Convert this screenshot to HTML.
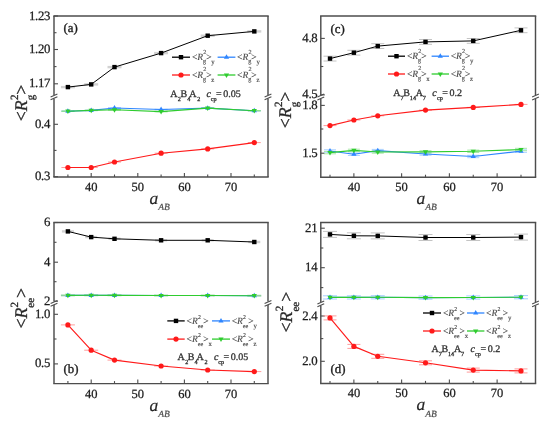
<!DOCTYPE html>
<html><head><meta charset="utf-8"><style>
html,body{margin:0;padding:0;background:#fff;}
svg{display:block;filter:blur(0.4px);}
text{font-family:'Liberation Serif', 'Times New Roman', serif;text-rendering:geometricPrecision;}
</style></head><body>
<svg width="550" height="427" viewBox="0 0 550 427">
<rect x="0" y="0" width="550" height="427" fill="#fff"/>
<line x1="53.27" y1="16.00" x2="268.73" y2="16.00" stroke="#4d4d4d" stroke-width="1.45" />
<line x1="53.27" y1="177.00" x2="268.73" y2="177.00" stroke="#4d4d4d" stroke-width="1.45" />
<line x1="54.00" y1="16.00" x2="54.00" y2="95.00" stroke="#4d4d4d" stroke-width="1.45" />
<line x1="54.00" y1="98.60" x2="54.00" y2="177.00" stroke="#4d4d4d" stroke-width="1.45" />
<line x1="268.00" y1="16.00" x2="268.00" y2="95.00" stroke="#4d4d4d" stroke-width="1.45" />
<line x1="268.00" y1="98.60" x2="268.00" y2="177.00" stroke="#4d4d4d" stroke-width="1.45" />
<line x1="50.60" y1="96.90" x2="57.40" y2="93.90" stroke="#4d4d4d" stroke-width="1.1" />
<line x1="50.60" y1="99.70" x2="57.40" y2="96.70" stroke="#4d4d4d" stroke-width="1.1" />
<line x1="264.60" y1="96.90" x2="271.40" y2="93.90" stroke="#4d4d4d" stroke-width="1.1" />
<line x1="264.60" y1="99.70" x2="271.40" y2="96.70" stroke="#4d4d4d" stroke-width="1.1" />
<line x1="54.00" y1="16.00" x2="58.00" y2="16.00" stroke="#4d4d4d" stroke-width="1.1" />
<line x1="54.00" y1="49.50" x2="58.00" y2="49.50" stroke="#4d4d4d" stroke-width="1.1" />
<line x1="54.00" y1="83.80" x2="58.00" y2="83.80" stroke="#4d4d4d" stroke-width="1.1" />
<line x1="54.00" y1="124.30" x2="58.00" y2="124.30" stroke="#4d4d4d" stroke-width="1.1" />
<line x1="54.00" y1="176.70" x2="58.00" y2="176.70" stroke="#4d4d4d" stroke-width="1.1" />
<line x1="54.00" y1="32.70" x2="56.50" y2="32.70" stroke="#4d4d4d" stroke-width="1.1" />
<line x1="54.00" y1="66.60" x2="56.50" y2="66.60" stroke="#4d4d4d" stroke-width="1.1" />
<line x1="54.00" y1="150.40" x2="56.50" y2="150.40" stroke="#4d4d4d" stroke-width="1.1" />
<line x1="91.20" y1="177.00" x2="91.20" y2="173.00" stroke="#4d4d4d" stroke-width="1.1" />
<line x1="137.80" y1="177.00" x2="137.80" y2="173.00" stroke="#4d4d4d" stroke-width="1.1" />
<line x1="184.40" y1="177.00" x2="184.40" y2="173.00" stroke="#4d4d4d" stroke-width="1.1" />
<line x1="231.00" y1="177.00" x2="231.00" y2="173.00" stroke="#4d4d4d" stroke-width="1.1" />
<line x1="67.90" y1="177.00" x2="67.90" y2="174.50" stroke="#4d4d4d" stroke-width="1.1" />
<line x1="114.50" y1="177.00" x2="114.50" y2="174.50" stroke="#4d4d4d" stroke-width="1.1" />
<line x1="161.10" y1="177.00" x2="161.10" y2="174.50" stroke="#4d4d4d" stroke-width="1.1" />
<line x1="207.70" y1="177.00" x2="207.70" y2="174.50" stroke="#4d4d4d" stroke-width="1.1" />
<line x1="254.30" y1="177.00" x2="254.30" y2="174.50" stroke="#4d4d4d" stroke-width="1.1" />
<text x="50.10" y="19.50" font-size="12.8" text-anchor="end" fill="#1c1c1c" stroke="#1c1c1c" stroke-width="0.25" letter-spacing="-0.3">1.23</text>
<text x="50.10" y="53.00" font-size="12.8" text-anchor="end" fill="#1c1c1c" stroke="#1c1c1c" stroke-width="0.25" letter-spacing="-0.3">1.20</text>
<text x="50.10" y="87.30" font-size="12.8" text-anchor="end" fill="#1c1c1c" stroke="#1c1c1c" stroke-width="0.25" letter-spacing="-0.3">1.17</text>
<text x="50.10" y="127.80" font-size="12.8" text-anchor="end" fill="#1c1c1c" stroke="#1c1c1c" stroke-width="0.25" letter-spacing="-0.3">0.4</text>
<text x="50.10" y="180.20" font-size="12.8" text-anchor="end" fill="#1c1c1c" stroke="#1c1c1c" stroke-width="0.25" letter-spacing="-0.3">0.3</text>
<text x="91.20" y="191.00" font-size="12.5" text-anchor="middle" fill="#1c1c1c" stroke="#1c1c1c" stroke-width="0.25" >40</text>
<text x="137.80" y="191.00" font-size="12.5" text-anchor="middle" fill="#1c1c1c" stroke="#1c1c1c" stroke-width="0.25" >50</text>
<text x="184.40" y="191.00" font-size="12.5" text-anchor="middle" fill="#1c1c1c" stroke="#1c1c1c" stroke-width="0.25" >60</text>
<text x="231.00" y="191.00" font-size="12.5" text-anchor="middle" fill="#1c1c1c" stroke="#1c1c1c" stroke-width="0.25" >70</text>
<text x="149.60" y="204.00" font-size="17.5" text-anchor="start" fill="#262626" stroke="#262626" stroke-width="0.2" font-style="italic">a</text>
<text x="158.30" y="210.10" font-size="9.5" text-anchor="start" fill="#4a4a4a" stroke="#4a4a4a" stroke-width="0.2" font-style="italic">AB</text>
<text x="63.50" y="32.00" font-size="12.8" text-anchor="start" fill="#1c1c1c" stroke="#1c1c1c" stroke-width="0.35" >(a)</text>
<line x1="60.90" y1="87.10" x2="74.90" y2="87.10" stroke="#d2d2d2" stroke-width="2.4" />
<line x1="84.20" y1="84.40" x2="98.20" y2="84.40" stroke="#d2d2d2" stroke-width="2.4" />
<line x1="107.50" y1="67.10" x2="121.50" y2="67.10" stroke="#d2d2d2" stroke-width="2.4" />
<line x1="154.10" y1="53.10" x2="168.10" y2="53.10" stroke="#d2d2d2" stroke-width="2.4" />
<line x1="200.70" y1="35.70" x2="214.70" y2="35.70" stroke="#d2d2d2" stroke-width="2.4" />
<line x1="247.30" y1="31.40" x2="261.30" y2="31.40" stroke="#d2d2d2" stroke-width="2.4" />
<line x1="61.40" y1="167.50" x2="74.40" y2="167.50" stroke="#ff9c9c" stroke-width="1.0" />
<line x1="84.70" y1="167.50" x2="97.70" y2="167.50" stroke="#ff9c9c" stroke-width="1.0" />
<line x1="108.00" y1="162.00" x2="121.00" y2="162.00" stroke="#ff9c9c" stroke-width="1.0" />
<line x1="154.60" y1="153.20" x2="167.60" y2="153.20" stroke="#ff9c9c" stroke-width="1.0" />
<line x1="201.20" y1="148.90" x2="214.20" y2="148.90" stroke="#ff9c9c" stroke-width="1.0" />
<line x1="247.80" y1="142.60" x2="260.80" y2="142.60" stroke="#ff9c9c" stroke-width="1.0" />
<polyline points="67.90,87.10 91.20,84.40 114.50,67.10 161.10,53.10 207.70,35.70 254.30,31.40" fill="none" stroke="#000000" stroke-width="1.0" stroke-linejoin="round"/>
<rect x="65.70" y="84.90" width="4.40" height="4.40" fill="#000000"/>
<rect x="89.00" y="82.20" width="4.40" height="4.40" fill="#000000"/>
<rect x="112.30" y="64.90" width="4.40" height="4.40" fill="#000000"/>
<rect x="158.90" y="50.90" width="4.40" height="4.40" fill="#000000"/>
<rect x="205.50" y="33.50" width="4.40" height="4.40" fill="#000000"/>
<rect x="252.10" y="29.20" width="4.40" height="4.40" fill="#000000"/>
<line x1="61.40" y1="111.20" x2="74.40" y2="111.20" stroke="#8fc0ff" stroke-width="1.4" />
<line x1="84.70" y1="110.40" x2="97.70" y2="110.40" stroke="#8fc0ff" stroke-width="1.4" />
<line x1="108.00" y1="108.00" x2="121.00" y2="108.00" stroke="#8fc0ff" stroke-width="1.4" />
<line x1="154.60" y1="109.50" x2="167.60" y2="109.50" stroke="#8fc0ff" stroke-width="1.4" />
<line x1="201.20" y1="108.10" x2="214.20" y2="108.10" stroke="#8fc0ff" stroke-width="1.4" />
<line x1="247.80" y1="110.70" x2="260.80" y2="110.70" stroke="#8fc0ff" stroke-width="1.4" />
<line x1="61.40" y1="111.20" x2="74.40" y2="111.20" stroke="#8fdf8f" stroke-width="1.4" />
<line x1="84.70" y1="110.40" x2="97.70" y2="110.40" stroke="#8fdf8f" stroke-width="1.4" />
<line x1="108.00" y1="109.80" x2="121.00" y2="109.80" stroke="#8fdf8f" stroke-width="1.4" />
<line x1="154.60" y1="111.60" x2="167.60" y2="111.60" stroke="#8fdf8f" stroke-width="1.4" />
<line x1="201.20" y1="108.10" x2="214.20" y2="108.10" stroke="#8fdf8f" stroke-width="1.4" />
<line x1="247.80" y1="110.70" x2="260.80" y2="110.70" stroke="#8fdf8f" stroke-width="1.4" />
<polyline points="67.90,111.20 91.20,110.40 114.50,108.00 161.10,109.50 207.70,108.10 254.30,110.70" fill="none" stroke="#2f86ff" stroke-width="1.15" stroke-linejoin="round"/>
<polygon points="67.90,108.30 65.29,112.80 70.51,112.80" fill="#2f86ff"/>
<polygon points="91.20,107.50 88.59,112.00 93.81,112.00" fill="#2f86ff"/>
<polygon points="114.50,105.10 111.89,109.59 117.11,109.59" fill="#2f86ff"/>
<polygon points="161.10,106.60 158.49,111.09 163.71,111.09" fill="#2f86ff"/>
<polygon points="207.70,105.20 205.09,109.69 210.31,109.69" fill="#2f86ff"/>
<polygon points="254.30,107.80 251.69,112.30 256.91,112.30" fill="#2f86ff"/>
<polyline points="67.90,111.20 91.20,110.40 114.50,109.80 161.10,111.60 207.70,108.10 254.30,110.70" fill="none" stroke="#2fcc2f" stroke-width="1.15" stroke-linejoin="round"/>
<polygon points="67.90,114.10 65.29,109.61 70.51,109.61" fill="#2fcc2f"/>
<polygon points="91.20,113.30 88.59,108.81 93.81,108.81" fill="#2fcc2f"/>
<polygon points="114.50,112.70 111.89,108.20 117.11,108.20" fill="#2fcc2f"/>
<polygon points="161.10,114.50 158.49,110.00 163.71,110.00" fill="#2fcc2f"/>
<polygon points="207.70,111.00 205.09,106.50 210.31,106.50" fill="#2fcc2f"/>
<polygon points="254.30,113.60 251.69,109.11 256.91,109.11" fill="#2fcc2f"/>
<polyline points="67.90,167.50 91.20,167.50 114.50,162.00 161.10,153.20 207.70,148.90 254.30,142.60" fill="none" stroke="#ff1a1a" stroke-width="1.15" stroke-linejoin="round"/>
<circle cx="67.90" cy="167.50" r="2.60" fill="#ff1a1a"/>
<circle cx="91.20" cy="167.50" r="2.60" fill="#ff1a1a"/>
<circle cx="114.50" cy="162.00" r="2.60" fill="#ff1a1a"/>
<circle cx="161.10" cy="153.20" r="2.60" fill="#ff1a1a"/>
<circle cx="207.70" cy="148.90" r="2.60" fill="#ff1a1a"/>
<circle cx="254.30" cy="142.60" r="2.60" fill="#ff1a1a"/>
<line x1="320.07" y1="16.00" x2="536.23" y2="16.00" stroke="#4d4d4d" stroke-width="1.45" />
<line x1="320.07" y1="177.20" x2="536.23" y2="177.20" stroke="#4d4d4d" stroke-width="1.45" />
<line x1="320.80" y1="16.00" x2="320.80" y2="95.20" stroke="#4d4d4d" stroke-width="1.45" />
<line x1="320.80" y1="98.80" x2="320.80" y2="177.20" stroke="#4d4d4d" stroke-width="1.45" />
<line x1="535.50" y1="16.00" x2="535.50" y2="95.20" stroke="#4d4d4d" stroke-width="1.45" />
<line x1="535.50" y1="98.80" x2="535.50" y2="177.20" stroke="#4d4d4d" stroke-width="1.45" />
<line x1="317.40" y1="97.10" x2="324.20" y2="94.10" stroke="#4d4d4d" stroke-width="1.1" />
<line x1="317.40" y1="99.90" x2="324.20" y2="96.90" stroke="#4d4d4d" stroke-width="1.1" />
<line x1="532.10" y1="97.10" x2="538.90" y2="94.10" stroke="#4d4d4d" stroke-width="1.1" />
<line x1="532.10" y1="99.90" x2="538.90" y2="96.90" stroke="#4d4d4d" stroke-width="1.1" />
<line x1="320.80" y1="38.40" x2="324.80" y2="38.40" stroke="#4d4d4d" stroke-width="1.1" />
<line x1="320.80" y1="94.90" x2="324.80" y2="94.90" stroke="#4d4d4d" stroke-width="1.1" />
<line x1="320.80" y1="105.40" x2="324.80" y2="105.40" stroke="#4d4d4d" stroke-width="1.1" />
<line x1="320.80" y1="153.20" x2="324.80" y2="153.20" stroke="#4d4d4d" stroke-width="1.1" />
<line x1="320.80" y1="66.50" x2="323.30" y2="66.50" stroke="#4d4d4d" stroke-width="1.1" />
<line x1="320.80" y1="129.00" x2="323.30" y2="129.00" stroke="#4d4d4d" stroke-width="1.1" />
<line x1="353.88" y1="177.20" x2="353.88" y2="173.20" stroke="#4d4d4d" stroke-width="1.1" />
<line x1="401.62" y1="177.20" x2="401.62" y2="173.20" stroke="#4d4d4d" stroke-width="1.1" />
<line x1="449.38" y1="177.20" x2="449.38" y2="173.20" stroke="#4d4d4d" stroke-width="1.1" />
<line x1="497.12" y1="177.20" x2="497.12" y2="173.20" stroke="#4d4d4d" stroke-width="1.1" />
<line x1="330.00" y1="177.20" x2="330.00" y2="174.70" stroke="#4d4d4d" stroke-width="1.1" />
<line x1="377.75" y1="177.20" x2="377.75" y2="174.70" stroke="#4d4d4d" stroke-width="1.1" />
<line x1="425.50" y1="177.20" x2="425.50" y2="174.70" stroke="#4d4d4d" stroke-width="1.1" />
<line x1="473.25" y1="177.20" x2="473.25" y2="174.70" stroke="#4d4d4d" stroke-width="1.1" />
<line x1="521.00" y1="177.20" x2="521.00" y2="174.70" stroke="#4d4d4d" stroke-width="1.1" />
<text x="317.40" y="41.90" font-size="12.8" text-anchor="end" fill="#1c1c1c" stroke="#1c1c1c" stroke-width="0.25" letter-spacing="-0.3">4.8</text>
<text x="317.40" y="98.40" font-size="12.8" text-anchor="end" fill="#1c1c1c" stroke="#1c1c1c" stroke-width="0.25" letter-spacing="-0.3">4.5</text>
<text x="317.40" y="108.90" font-size="12.8" text-anchor="end" fill="#1c1c1c" stroke="#1c1c1c" stroke-width="0.25" letter-spacing="-0.3">1.8</text>
<text x="317.40" y="156.70" font-size="12.8" text-anchor="end" fill="#1c1c1c" stroke="#1c1c1c" stroke-width="0.25" letter-spacing="-0.3">1.5</text>
<text x="353.88" y="191.20" font-size="12.5" text-anchor="middle" fill="#1c1c1c" stroke="#1c1c1c" stroke-width="0.25" >40</text>
<text x="401.62" y="191.20" font-size="12.5" text-anchor="middle" fill="#1c1c1c" stroke="#1c1c1c" stroke-width="0.25" >50</text>
<text x="449.38" y="191.20" font-size="12.5" text-anchor="middle" fill="#1c1c1c" stroke="#1c1c1c" stroke-width="0.25" >60</text>
<text x="497.12" y="191.20" font-size="12.5" text-anchor="middle" fill="#1c1c1c" stroke="#1c1c1c" stroke-width="0.25" >70</text>
<text x="416.60" y="204.20" font-size="17.5" text-anchor="start" fill="#262626" stroke="#262626" stroke-width="0.2" font-style="italic">a</text>
<text x="425.30" y="210.30" font-size="9.5" text-anchor="start" fill="#4a4a4a" stroke="#4a4a4a" stroke-width="0.2" font-style="italic">AB</text>
<text x="330.50" y="32.70" font-size="12.8" text-anchor="start" fill="#1c1c1c" stroke="#1c1c1c" stroke-width="0.35" >(c)</text>
<line x1="323.50" y1="56.20" x2="336.50" y2="56.20" stroke="#c4c4c4" stroke-width="1.0" />
<line x1="323.50" y1="61.00" x2="336.50" y2="61.00" stroke="#c4c4c4" stroke-width="1.0" />
<line x1="330.00" y1="56.20" x2="330.00" y2="61.00" stroke="#c4c4c4" stroke-width="1.0" />
<line x1="347.38" y1="50.30" x2="360.38" y2="50.30" stroke="#c4c4c4" stroke-width="1.0" />
<line x1="347.38" y1="55.10" x2="360.38" y2="55.10" stroke="#c4c4c4" stroke-width="1.0" />
<line x1="353.88" y1="50.30" x2="353.88" y2="55.10" stroke="#c4c4c4" stroke-width="1.0" />
<line x1="371.25" y1="43.70" x2="384.25" y2="43.70" stroke="#c4c4c4" stroke-width="1.0" />
<line x1="371.25" y1="48.50" x2="384.25" y2="48.50" stroke="#c4c4c4" stroke-width="1.0" />
<line x1="377.75" y1="43.70" x2="377.75" y2="48.50" stroke="#c4c4c4" stroke-width="1.0" />
<line x1="419.00" y1="39.50" x2="432.00" y2="39.50" stroke="#c4c4c4" stroke-width="1.0" />
<line x1="419.00" y1="44.30" x2="432.00" y2="44.30" stroke="#c4c4c4" stroke-width="1.0" />
<line x1="425.50" y1="39.50" x2="425.50" y2="44.30" stroke="#c4c4c4" stroke-width="1.0" />
<line x1="466.75" y1="38.50" x2="479.75" y2="38.50" stroke="#c4c4c4" stroke-width="1.0" />
<line x1="466.75" y1="43.30" x2="479.75" y2="43.30" stroke="#c4c4c4" stroke-width="1.0" />
<line x1="473.25" y1="38.50" x2="473.25" y2="43.30" stroke="#c4c4c4" stroke-width="1.0" />
<line x1="514.50" y1="27.90" x2="527.50" y2="27.90" stroke="#c4c4c4" stroke-width="1.0" />
<line x1="514.50" y1="32.70" x2="527.50" y2="32.70" stroke="#c4c4c4" stroke-width="1.0" />
<line x1="521.00" y1="27.90" x2="521.00" y2="32.70" stroke="#c4c4c4" stroke-width="1.0" />
<polyline points="330.00,58.60 353.88,52.70 377.75,46.10 425.50,41.90 473.25,40.90 521.00,30.30" fill="none" stroke="#000000" stroke-width="1.0" stroke-linejoin="round"/>
<rect x="327.80" y="56.40" width="4.40" height="4.40" fill="#000000"/>
<rect x="351.68" y="50.50" width="4.40" height="4.40" fill="#000000"/>
<rect x="375.55" y="43.90" width="4.40" height="4.40" fill="#000000"/>
<rect x="423.30" y="39.70" width="4.40" height="4.40" fill="#000000"/>
<rect x="471.05" y="38.70" width="4.40" height="4.40" fill="#000000"/>
<rect x="518.80" y="28.10" width="4.40" height="4.40" fill="#000000"/>
<line x1="323.50" y1="125.60" x2="336.50" y2="125.60" stroke="#ff9c9c" stroke-width="1.0" />
<line x1="347.38" y1="120.00" x2="360.38" y2="120.00" stroke="#ff9c9c" stroke-width="1.0" />
<line x1="371.25" y1="115.80" x2="384.25" y2="115.80" stroke="#ff9c9c" stroke-width="1.0" />
<line x1="419.00" y1="110.10" x2="432.00" y2="110.10" stroke="#ff9c9c" stroke-width="1.0" />
<line x1="466.75" y1="107.40" x2="479.75" y2="107.40" stroke="#ff9c9c" stroke-width="1.0" />
<line x1="514.50" y1="104.40" x2="527.50" y2="104.40" stroke="#ff9c9c" stroke-width="1.0" />
<polyline points="330.00,125.60 353.88,120.00 377.75,115.80 425.50,110.10 473.25,107.40 521.00,104.40" fill="none" stroke="#ff1a1a" stroke-width="1.15" stroke-linejoin="round"/>
<circle cx="330.00" cy="125.60" r="2.60" fill="#ff1a1a"/>
<circle cx="353.88" cy="120.00" r="2.60" fill="#ff1a1a"/>
<circle cx="377.75" cy="115.80" r="2.60" fill="#ff1a1a"/>
<circle cx="425.50" cy="110.10" r="2.60" fill="#ff1a1a"/>
<circle cx="473.25" cy="107.40" r="2.60" fill="#ff1a1a"/>
<circle cx="521.00" cy="104.40" r="2.60" fill="#ff1a1a"/>
<line x1="324.00" y1="149.80" x2="336.00" y2="149.80" stroke="#a8d0ff" stroke-width="1.0" />
<line x1="324.00" y1="152.20" x2="336.00" y2="152.20" stroke="#a8d0ff" stroke-width="1.0" />
<line x1="330.00" y1="149.80" x2="330.00" y2="152.20" stroke="#a8d0ff" stroke-width="1.0" />
<line x1="347.88" y1="153.00" x2="359.88" y2="153.00" stroke="#a8d0ff" stroke-width="1.0" />
<line x1="347.88" y1="155.40" x2="359.88" y2="155.40" stroke="#a8d0ff" stroke-width="1.0" />
<line x1="353.88" y1="153.00" x2="353.88" y2="155.40" stroke="#a8d0ff" stroke-width="1.0" />
<line x1="371.75" y1="149.40" x2="383.75" y2="149.40" stroke="#a8d0ff" stroke-width="1.0" />
<line x1="371.75" y1="151.80" x2="383.75" y2="151.80" stroke="#a8d0ff" stroke-width="1.0" />
<line x1="377.75" y1="149.40" x2="377.75" y2="151.80" stroke="#a8d0ff" stroke-width="1.0" />
<line x1="419.50" y1="152.80" x2="431.50" y2="152.80" stroke="#a8d0ff" stroke-width="1.0" />
<line x1="419.50" y1="155.20" x2="431.50" y2="155.20" stroke="#a8d0ff" stroke-width="1.0" />
<line x1="425.50" y1="152.80" x2="425.50" y2="155.20" stroke="#a8d0ff" stroke-width="1.0" />
<line x1="467.25" y1="155.30" x2="479.25" y2="155.30" stroke="#a8d0ff" stroke-width="1.0" />
<line x1="467.25" y1="157.70" x2="479.25" y2="157.70" stroke="#a8d0ff" stroke-width="1.0" />
<line x1="473.25" y1="155.30" x2="473.25" y2="157.70" stroke="#a8d0ff" stroke-width="1.0" />
<line x1="515.00" y1="149.90" x2="527.00" y2="149.90" stroke="#a8d0ff" stroke-width="1.0" />
<line x1="515.00" y1="152.30" x2="527.00" y2="152.30" stroke="#a8d0ff" stroke-width="1.0" />
<line x1="521.00" y1="149.90" x2="521.00" y2="152.30" stroke="#a8d0ff" stroke-width="1.0" />
<line x1="324.00" y1="151.40" x2="336.00" y2="151.40" stroke="#a8e8a8" stroke-width="1.0" />
<line x1="324.00" y1="153.80" x2="336.00" y2="153.80" stroke="#a8e8a8" stroke-width="1.0" />
<line x1="330.00" y1="151.40" x2="330.00" y2="153.80" stroke="#a8e8a8" stroke-width="1.0" />
<line x1="347.88" y1="149.20" x2="359.88" y2="149.20" stroke="#a8e8a8" stroke-width="1.0" />
<line x1="347.88" y1="151.60" x2="359.88" y2="151.60" stroke="#a8e8a8" stroke-width="1.0" />
<line x1="353.88" y1="149.20" x2="353.88" y2="151.60" stroke="#a8e8a8" stroke-width="1.0" />
<line x1="371.75" y1="150.80" x2="383.75" y2="150.80" stroke="#a8e8a8" stroke-width="1.0" />
<line x1="371.75" y1="153.20" x2="383.75" y2="153.20" stroke="#a8e8a8" stroke-width="1.0" />
<line x1="377.75" y1="150.80" x2="377.75" y2="153.20" stroke="#a8e8a8" stroke-width="1.0" />
<line x1="419.50" y1="150.70" x2="431.50" y2="150.70" stroke="#a8e8a8" stroke-width="1.0" />
<line x1="419.50" y1="153.10" x2="431.50" y2="153.10" stroke="#a8e8a8" stroke-width="1.0" />
<line x1="425.50" y1="150.70" x2="425.50" y2="153.10" stroke="#a8e8a8" stroke-width="1.0" />
<line x1="467.25" y1="150.10" x2="479.25" y2="150.10" stroke="#a8e8a8" stroke-width="1.0" />
<line x1="467.25" y1="152.50" x2="479.25" y2="152.50" stroke="#a8e8a8" stroke-width="1.0" />
<line x1="473.25" y1="150.10" x2="473.25" y2="152.50" stroke="#a8e8a8" stroke-width="1.0" />
<line x1="515.00" y1="148.30" x2="527.00" y2="148.30" stroke="#a8e8a8" stroke-width="1.0" />
<line x1="515.00" y1="150.70" x2="527.00" y2="150.70" stroke="#a8e8a8" stroke-width="1.0" />
<line x1="521.00" y1="148.30" x2="521.00" y2="150.70" stroke="#a8e8a8" stroke-width="1.0" />
<polyline points="330.00,151.00 353.88,154.20 377.75,150.60 425.50,154.00 473.25,156.50 521.00,151.10" fill="none" stroke="#2f86ff" stroke-width="1.15" stroke-linejoin="round"/>
<polygon points="330.00,148.10 327.39,152.59 332.61,152.59" fill="#2f86ff"/>
<polygon points="353.88,151.30 351.26,155.79 356.49,155.79" fill="#2f86ff"/>
<polygon points="377.75,147.70 375.14,152.19 380.36,152.19" fill="#2f86ff"/>
<polygon points="425.50,151.10 422.89,155.59 428.11,155.59" fill="#2f86ff"/>
<polygon points="473.25,153.60 470.64,158.09 475.86,158.09" fill="#2f86ff"/>
<polygon points="521.00,148.20 518.39,152.69 523.61,152.69" fill="#2f86ff"/>
<polyline points="330.00,152.60 353.88,150.40 377.75,152.00 425.50,151.90 473.25,151.30 521.00,149.50" fill="none" stroke="#2fcc2f" stroke-width="1.15" stroke-linejoin="round"/>
<polygon points="330.00,155.50 327.39,151.00 332.61,151.00" fill="#2fcc2f"/>
<polygon points="353.88,153.30 351.26,148.81 356.49,148.81" fill="#2fcc2f"/>
<polygon points="377.75,154.90 375.14,150.41 380.36,150.41" fill="#2fcc2f"/>
<polygon points="425.50,154.80 422.89,150.31 428.11,150.31" fill="#2fcc2f"/>
<polygon points="473.25,154.20 470.64,149.71 475.86,149.71" fill="#2fcc2f"/>
<polygon points="521.00,152.40 518.39,147.91 523.61,147.91" fill="#2fcc2f"/>
<line x1="53.27" y1="222.50" x2="268.73" y2="222.50" stroke="#4d4d4d" stroke-width="1.45" />
<line x1="53.27" y1="383.60" x2="268.73" y2="383.60" stroke="#4d4d4d" stroke-width="1.45" />
<line x1="54.00" y1="222.50" x2="54.00" y2="301.50" stroke="#4d4d4d" stroke-width="1.45" />
<line x1="54.00" y1="305.10" x2="54.00" y2="383.60" stroke="#4d4d4d" stroke-width="1.45" />
<line x1="268.00" y1="222.50" x2="268.00" y2="301.50" stroke="#4d4d4d" stroke-width="1.45" />
<line x1="268.00" y1="305.10" x2="268.00" y2="383.60" stroke="#4d4d4d" stroke-width="1.45" />
<line x1="50.60" y1="303.40" x2="57.40" y2="300.40" stroke="#4d4d4d" stroke-width="1.1" />
<line x1="50.60" y1="306.20" x2="57.40" y2="303.20" stroke="#4d4d4d" stroke-width="1.1" />
<line x1="264.60" y1="303.40" x2="271.40" y2="300.40" stroke="#4d4d4d" stroke-width="1.1" />
<line x1="264.60" y1="306.20" x2="271.40" y2="303.20" stroke="#4d4d4d" stroke-width="1.1" />
<line x1="54.00" y1="222.50" x2="58.00" y2="222.50" stroke="#4d4d4d" stroke-width="1.1" />
<line x1="54.00" y1="262.20" x2="58.00" y2="262.20" stroke="#4d4d4d" stroke-width="1.1" />
<line x1="54.00" y1="301.20" x2="58.00" y2="301.20" stroke="#4d4d4d" stroke-width="1.1" />
<line x1="54.00" y1="314.30" x2="58.00" y2="314.30" stroke="#4d4d4d" stroke-width="1.1" />
<line x1="54.00" y1="363.90" x2="58.00" y2="363.90" stroke="#4d4d4d" stroke-width="1.1" />
<line x1="54.00" y1="242.30" x2="56.50" y2="242.30" stroke="#4d4d4d" stroke-width="1.1" />
<line x1="54.00" y1="281.70" x2="56.50" y2="281.70" stroke="#4d4d4d" stroke-width="1.1" />
<line x1="54.00" y1="339.00" x2="56.50" y2="339.00" stroke="#4d4d4d" stroke-width="1.1" />
<line x1="91.20" y1="383.60" x2="91.20" y2="379.60" stroke="#4d4d4d" stroke-width="1.1" />
<line x1="137.80" y1="383.60" x2="137.80" y2="379.60" stroke="#4d4d4d" stroke-width="1.1" />
<line x1="184.40" y1="383.60" x2="184.40" y2="379.60" stroke="#4d4d4d" stroke-width="1.1" />
<line x1="231.00" y1="383.60" x2="231.00" y2="379.60" stroke="#4d4d4d" stroke-width="1.1" />
<line x1="67.90" y1="383.60" x2="67.90" y2="381.10" stroke="#4d4d4d" stroke-width="1.1" />
<line x1="114.50" y1="383.60" x2="114.50" y2="381.10" stroke="#4d4d4d" stroke-width="1.1" />
<line x1="161.10" y1="383.60" x2="161.10" y2="381.10" stroke="#4d4d4d" stroke-width="1.1" />
<line x1="207.70" y1="383.60" x2="207.70" y2="381.10" stroke="#4d4d4d" stroke-width="1.1" />
<line x1="254.30" y1="383.60" x2="254.30" y2="381.10" stroke="#4d4d4d" stroke-width="1.1" />
<text x="50.10" y="226.00" font-size="12.8" text-anchor="end" fill="#1c1c1c" stroke="#1c1c1c" stroke-width="0.25" letter-spacing="-0.3">6</text>
<text x="50.10" y="265.70" font-size="12.8" text-anchor="end" fill="#1c1c1c" stroke="#1c1c1c" stroke-width="0.25" letter-spacing="-0.3">4</text>
<text x="50.10" y="304.70" font-size="12.8" text-anchor="end" fill="#1c1c1c" stroke="#1c1c1c" stroke-width="0.25" letter-spacing="-0.3">2</text>
<text x="50.10" y="317.80" font-size="12.8" text-anchor="end" fill="#1c1c1c" stroke="#1c1c1c" stroke-width="0.25" letter-spacing="-0.3">1.0</text>
<text x="50.10" y="367.40" font-size="12.8" text-anchor="end" fill="#1c1c1c" stroke="#1c1c1c" stroke-width="0.25" letter-spacing="-0.3">0.5</text>
<text x="91.20" y="397.60" font-size="12.5" text-anchor="middle" fill="#1c1c1c" stroke="#1c1c1c" stroke-width="0.25" >40</text>
<text x="137.80" y="397.60" font-size="12.5" text-anchor="middle" fill="#1c1c1c" stroke="#1c1c1c" stroke-width="0.25" >50</text>
<text x="184.40" y="397.60" font-size="12.5" text-anchor="middle" fill="#1c1c1c" stroke="#1c1c1c" stroke-width="0.25" >60</text>
<text x="231.00" y="397.60" font-size="12.5" text-anchor="middle" fill="#1c1c1c" stroke="#1c1c1c" stroke-width="0.25" >70</text>
<text x="149.60" y="410.60" font-size="17.5" text-anchor="start" fill="#262626" stroke="#262626" stroke-width="0.2" font-style="italic">a</text>
<text x="158.30" y="416.70" font-size="9.5" text-anchor="start" fill="#4a4a4a" stroke="#4a4a4a" stroke-width="0.2" font-style="italic">AB</text>
<text x="63.50" y="372.70" font-size="12.8" text-anchor="start" fill="#1c1c1c" stroke="#1c1c1c" stroke-width="0.35" >(b)</text>
<line x1="61.90" y1="231.40" x2="73.90" y2="231.40" stroke="#d2d2d2" stroke-width="2.4" />
<line x1="85.20" y1="237.10" x2="97.20" y2="237.10" stroke="#d2d2d2" stroke-width="2.4" />
<line x1="108.50" y1="238.80" x2="120.50" y2="238.80" stroke="#d2d2d2" stroke-width="2.4" />
<line x1="155.10" y1="240.30" x2="167.10" y2="240.30" stroke="#d2d2d2" stroke-width="2.4" />
<line x1="201.70" y1="240.30" x2="213.70" y2="240.30" stroke="#d2d2d2" stroke-width="2.4" />
<line x1="248.30" y1="242.00" x2="260.30" y2="242.00" stroke="#d2d2d2" stroke-width="2.4" />
<line x1="60.90" y1="324.90" x2="74.90" y2="324.90" stroke="#ff9c9c" stroke-width="1.0" />
<line x1="84.20" y1="350.20" x2="98.20" y2="350.20" stroke="#ff9c9c" stroke-width="1.0" />
<line x1="107.50" y1="360.10" x2="121.50" y2="360.10" stroke="#ff9c9c" stroke-width="1.0" />
<line x1="154.10" y1="366.00" x2="168.10" y2="366.00" stroke="#ff9c9c" stroke-width="1.0" />
<line x1="200.70" y1="370.00" x2="214.70" y2="370.00" stroke="#ff9c9c" stroke-width="1.0" />
<line x1="247.30" y1="371.60" x2="261.30" y2="371.60" stroke="#ff9c9c" stroke-width="1.0" />
<polyline points="67.90,231.40 91.20,237.10 114.50,238.80 161.10,240.30 207.70,240.30 254.30,242.00" fill="none" stroke="#000000" stroke-width="1.0" stroke-linejoin="round"/>
<rect x="65.70" y="229.20" width="4.40" height="4.40" fill="#000000"/>
<rect x="89.00" y="234.90" width="4.40" height="4.40" fill="#000000"/>
<rect x="112.30" y="236.60" width="4.40" height="4.40" fill="#000000"/>
<rect x="158.90" y="238.10" width="4.40" height="4.40" fill="#000000"/>
<rect x="205.50" y="238.10" width="4.40" height="4.40" fill="#000000"/>
<rect x="252.10" y="239.80" width="4.40" height="4.40" fill="#000000"/>
<line x1="60.90" y1="295.40" x2="74.90" y2="295.40" stroke="#8fd0a0" stroke-width="1.8" />
<line x1="84.20" y1="295.30" x2="98.20" y2="295.30" stroke="#8fd0a0" stroke-width="1.8" />
<line x1="107.50" y1="295.30" x2="121.50" y2="295.30" stroke="#8fd0a0" stroke-width="1.8" />
<line x1="154.10" y1="295.50" x2="168.10" y2="295.50" stroke="#8fd0a0" stroke-width="1.8" />
<line x1="200.70" y1="295.50" x2="214.70" y2="295.50" stroke="#8fd0a0" stroke-width="1.8" />
<line x1="247.30" y1="295.70" x2="261.30" y2="295.70" stroke="#8fd0a0" stroke-width="1.8" />
<polyline points="67.90,295.40 91.20,295.30 114.50,295.30 161.10,295.50 207.70,295.50 254.30,295.70" fill="none" stroke="#2f86ff" stroke-width="1.15" stroke-linejoin="round"/>
<polygon points="67.90,292.50 65.29,297.00 70.51,297.00" fill="#2f86ff"/>
<polygon points="91.20,292.40 88.59,296.90 93.81,296.90" fill="#2f86ff"/>
<polygon points="114.50,292.40 111.89,296.90 117.11,296.90" fill="#2f86ff"/>
<polygon points="161.10,292.60 158.49,297.10 163.71,297.10" fill="#2f86ff"/>
<polygon points="207.70,292.60 205.09,297.10 210.31,297.10" fill="#2f86ff"/>
<polygon points="254.30,292.80 251.69,297.30 256.91,297.30" fill="#2f86ff"/>
<polyline points="67.90,295.40 91.20,295.30 114.50,295.30 161.10,295.50 207.70,295.50 254.30,295.70" fill="none" stroke="#2fcc2f" stroke-width="1.15" stroke-linejoin="round"/>
<polygon points="67.90,298.30 65.29,293.80 70.51,293.80" fill="#2fcc2f"/>
<polygon points="91.20,298.20 88.59,293.70 93.81,293.70" fill="#2fcc2f"/>
<polygon points="114.50,298.20 111.89,293.70 117.11,293.70" fill="#2fcc2f"/>
<polygon points="161.10,298.40 158.49,293.90 163.71,293.90" fill="#2fcc2f"/>
<polygon points="207.70,298.40 205.09,293.90 210.31,293.90" fill="#2fcc2f"/>
<polygon points="254.30,298.60 251.69,294.10 256.91,294.10" fill="#2fcc2f"/>
<polyline points="67.90,324.90 91.20,350.20 114.50,360.10 161.10,366.00 207.70,370.00 254.30,371.60" fill="none" stroke="#ff1a1a" stroke-width="1.15" stroke-linejoin="round"/>
<circle cx="67.90" cy="324.90" r="2.60" fill="#ff1a1a"/>
<circle cx="91.20" cy="350.20" r="2.60" fill="#ff1a1a"/>
<circle cx="114.50" cy="360.10" r="2.60" fill="#ff1a1a"/>
<circle cx="161.10" cy="366.00" r="2.60" fill="#ff1a1a"/>
<circle cx="207.70" cy="370.00" r="2.60" fill="#ff1a1a"/>
<circle cx="254.30" cy="371.60" r="2.60" fill="#ff1a1a"/>
<line x1="320.07" y1="222.50" x2="536.23" y2="222.50" stroke="#4d4d4d" stroke-width="1.45" />
<line x1="320.07" y1="383.40" x2="536.23" y2="383.40" stroke="#4d4d4d" stroke-width="1.45" />
<line x1="320.80" y1="222.50" x2="320.80" y2="302.00" stroke="#4d4d4d" stroke-width="1.45" />
<line x1="320.80" y1="305.60" x2="320.80" y2="383.40" stroke="#4d4d4d" stroke-width="1.45" />
<line x1="535.50" y1="222.50" x2="535.50" y2="302.00" stroke="#4d4d4d" stroke-width="1.45" />
<line x1="535.50" y1="305.60" x2="535.50" y2="383.40" stroke="#4d4d4d" stroke-width="1.45" />
<line x1="317.40" y1="303.90" x2="324.20" y2="300.90" stroke="#4d4d4d" stroke-width="1.1" />
<line x1="317.40" y1="306.70" x2="324.20" y2="303.70" stroke="#4d4d4d" stroke-width="1.1" />
<line x1="532.10" y1="303.90" x2="538.90" y2="300.90" stroke="#4d4d4d" stroke-width="1.1" />
<line x1="532.10" y1="306.70" x2="538.90" y2="303.70" stroke="#4d4d4d" stroke-width="1.1" />
<line x1="320.80" y1="228.20" x2="324.80" y2="228.20" stroke="#4d4d4d" stroke-width="1.1" />
<line x1="320.80" y1="267.70" x2="324.80" y2="267.70" stroke="#4d4d4d" stroke-width="1.1" />
<line x1="320.80" y1="316.00" x2="324.80" y2="316.00" stroke="#4d4d4d" stroke-width="1.1" />
<line x1="320.80" y1="361.30" x2="324.80" y2="361.30" stroke="#4d4d4d" stroke-width="1.1" />
<line x1="320.80" y1="248.00" x2="323.30" y2="248.00" stroke="#4d4d4d" stroke-width="1.1" />
<line x1="320.80" y1="287.60" x2="323.30" y2="287.60" stroke="#4d4d4d" stroke-width="1.1" />
<line x1="320.80" y1="338.60" x2="323.30" y2="338.60" stroke="#4d4d4d" stroke-width="1.1" />
<line x1="353.88" y1="383.40" x2="353.88" y2="379.40" stroke="#4d4d4d" stroke-width="1.1" />
<line x1="401.62" y1="383.40" x2="401.62" y2="379.40" stroke="#4d4d4d" stroke-width="1.1" />
<line x1="449.38" y1="383.40" x2="449.38" y2="379.40" stroke="#4d4d4d" stroke-width="1.1" />
<line x1="497.12" y1="383.40" x2="497.12" y2="379.40" stroke="#4d4d4d" stroke-width="1.1" />
<line x1="330.00" y1="383.40" x2="330.00" y2="380.90" stroke="#4d4d4d" stroke-width="1.1" />
<line x1="377.75" y1="383.40" x2="377.75" y2="380.90" stroke="#4d4d4d" stroke-width="1.1" />
<line x1="425.50" y1="383.40" x2="425.50" y2="380.90" stroke="#4d4d4d" stroke-width="1.1" />
<line x1="473.25" y1="383.40" x2="473.25" y2="380.90" stroke="#4d4d4d" stroke-width="1.1" />
<line x1="521.00" y1="383.40" x2="521.00" y2="380.90" stroke="#4d4d4d" stroke-width="1.1" />
<text x="317.30" y="231.70" font-size="12.8" text-anchor="end" fill="#1c1c1c" stroke="#1c1c1c" stroke-width="0.25" letter-spacing="-0.3">21</text>
<text x="317.30" y="271.20" font-size="12.8" text-anchor="end" fill="#1c1c1c" stroke="#1c1c1c" stroke-width="0.25" letter-spacing="-0.3">14</text>
<text x="317.30" y="319.50" font-size="12.8" text-anchor="end" fill="#1c1c1c" stroke="#1c1c1c" stroke-width="0.25" letter-spacing="-0.3">2.4</text>
<text x="317.30" y="364.80" font-size="12.8" text-anchor="end" fill="#1c1c1c" stroke="#1c1c1c" stroke-width="0.25" letter-spacing="-0.3">2.0</text>
<text x="353.88" y="397.40" font-size="12.5" text-anchor="middle" fill="#1c1c1c" stroke="#1c1c1c" stroke-width="0.25" >40</text>
<text x="401.62" y="397.40" font-size="12.5" text-anchor="middle" fill="#1c1c1c" stroke="#1c1c1c" stroke-width="0.25" >50</text>
<text x="449.38" y="397.40" font-size="12.5" text-anchor="middle" fill="#1c1c1c" stroke="#1c1c1c" stroke-width="0.25" >60</text>
<text x="497.12" y="397.40" font-size="12.5" text-anchor="middle" fill="#1c1c1c" stroke="#1c1c1c" stroke-width="0.25" >70</text>
<text x="416.60" y="410.40" font-size="17.5" text-anchor="start" fill="#262626" stroke="#262626" stroke-width="0.2" font-style="italic">a</text>
<text x="425.30" y="416.50" font-size="9.5" text-anchor="start" fill="#4a4a4a" stroke="#4a4a4a" stroke-width="0.2" font-style="italic">AB</text>
<text x="330.50" y="373.40" font-size="12.8" text-anchor="start" fill="#1c1c1c" stroke="#1c1c1c" stroke-width="0.35" >(d)</text>
<line x1="323.00" y1="231.40" x2="337.00" y2="231.40" stroke="#c4c4c4" stroke-width="1.0" />
<line x1="323.00" y1="237.40" x2="337.00" y2="237.40" stroke="#c4c4c4" stroke-width="1.0" />
<line x1="330.00" y1="231.40" x2="330.00" y2="237.40" stroke="#c4c4c4" stroke-width="1.0" />
<line x1="346.88" y1="232.80" x2="360.88" y2="232.80" stroke="#c4c4c4" stroke-width="1.0" />
<line x1="346.88" y1="238.80" x2="360.88" y2="238.80" stroke="#c4c4c4" stroke-width="1.0" />
<line x1="353.88" y1="232.80" x2="353.88" y2="238.80" stroke="#c4c4c4" stroke-width="1.0" />
<line x1="370.75" y1="232.90" x2="384.75" y2="232.90" stroke="#c4c4c4" stroke-width="1.0" />
<line x1="370.75" y1="238.90" x2="384.75" y2="238.90" stroke="#c4c4c4" stroke-width="1.0" />
<line x1="377.75" y1="232.90" x2="377.75" y2="238.90" stroke="#c4c4c4" stroke-width="1.0" />
<line x1="418.50" y1="234.50" x2="432.50" y2="234.50" stroke="#c4c4c4" stroke-width="1.0" />
<line x1="418.50" y1="240.50" x2="432.50" y2="240.50" stroke="#c4c4c4" stroke-width="1.0" />
<line x1="425.50" y1="234.50" x2="425.50" y2="240.50" stroke="#c4c4c4" stroke-width="1.0" />
<line x1="466.25" y1="234.50" x2="480.25" y2="234.50" stroke="#c4c4c4" stroke-width="1.0" />
<line x1="466.25" y1="240.50" x2="480.25" y2="240.50" stroke="#c4c4c4" stroke-width="1.0" />
<line x1="473.25" y1="234.50" x2="473.25" y2="240.50" stroke="#c4c4c4" stroke-width="1.0" />
<line x1="514.00" y1="234.10" x2="528.00" y2="234.10" stroke="#c4c4c4" stroke-width="1.0" />
<line x1="514.00" y1="240.10" x2="528.00" y2="240.10" stroke="#c4c4c4" stroke-width="1.0" />
<line x1="521.00" y1="234.10" x2="521.00" y2="240.10" stroke="#c4c4c4" stroke-width="1.0" />
<line x1="323.50" y1="315.90" x2="336.50" y2="315.90" stroke="#ff9c9c" stroke-width="1.0" />
<line x1="323.50" y1="319.90" x2="336.50" y2="319.90" stroke="#ff9c9c" stroke-width="1.0" />
<line x1="330.00" y1="315.90" x2="330.00" y2="319.90" stroke="#ff9c9c" stroke-width="1.0" />
<line x1="347.38" y1="344.40" x2="360.38" y2="344.40" stroke="#ff9c9c" stroke-width="1.0" />
<line x1="347.38" y1="348.40" x2="360.38" y2="348.40" stroke="#ff9c9c" stroke-width="1.0" />
<line x1="353.88" y1="344.40" x2="353.88" y2="348.40" stroke="#ff9c9c" stroke-width="1.0" />
<line x1="371.25" y1="354.30" x2="384.25" y2="354.30" stroke="#ff9c9c" stroke-width="1.0" />
<line x1="371.25" y1="358.30" x2="384.25" y2="358.30" stroke="#ff9c9c" stroke-width="1.0" />
<line x1="377.75" y1="354.30" x2="377.75" y2="358.30" stroke="#ff9c9c" stroke-width="1.0" />
<line x1="419.00" y1="360.80" x2="432.00" y2="360.80" stroke="#ff9c9c" stroke-width="1.0" />
<line x1="419.00" y1="364.80" x2="432.00" y2="364.80" stroke="#ff9c9c" stroke-width="1.0" />
<line x1="425.50" y1="360.80" x2="425.50" y2="364.80" stroke="#ff9c9c" stroke-width="1.0" />
<line x1="466.75" y1="368.10" x2="479.75" y2="368.10" stroke="#ff9c9c" stroke-width="1.0" />
<line x1="466.75" y1="372.10" x2="479.75" y2="372.10" stroke="#ff9c9c" stroke-width="1.0" />
<line x1="473.25" y1="368.10" x2="473.25" y2="372.10" stroke="#ff9c9c" stroke-width="1.0" />
<line x1="514.50" y1="368.90" x2="527.50" y2="368.90" stroke="#ff9c9c" stroke-width="1.0" />
<line x1="514.50" y1="372.90" x2="527.50" y2="372.90" stroke="#ff9c9c" stroke-width="1.0" />
<line x1="521.00" y1="368.90" x2="521.00" y2="372.90" stroke="#ff9c9c" stroke-width="1.0" />
<polyline points="330.00,234.40 353.88,235.80 377.75,235.90 425.50,237.50 473.25,237.50 521.00,237.10" fill="none" stroke="#000000" stroke-width="1.0" stroke-linejoin="round"/>
<rect x="327.80" y="232.20" width="4.40" height="4.40" fill="#000000"/>
<rect x="351.68" y="233.60" width="4.40" height="4.40" fill="#000000"/>
<rect x="375.55" y="233.70" width="4.40" height="4.40" fill="#000000"/>
<rect x="423.30" y="235.30" width="4.40" height="4.40" fill="#000000"/>
<rect x="471.05" y="235.30" width="4.40" height="4.40" fill="#000000"/>
<rect x="518.80" y="234.90" width="4.40" height="4.40" fill="#000000"/>
<line x1="323.00" y1="295.80" x2="337.00" y2="295.80" stroke="#a8d0ff" stroke-width="1.0" />
<line x1="323.00" y1="299.00" x2="337.00" y2="299.00" stroke="#a8d0ff" stroke-width="1.0" />
<line x1="330.00" y1="295.80" x2="330.00" y2="299.00" stroke="#a8d0ff" stroke-width="1.0" />
<line x1="346.88" y1="295.80" x2="360.88" y2="295.80" stroke="#a8d0ff" stroke-width="1.0" />
<line x1="346.88" y1="299.00" x2="360.88" y2="299.00" stroke="#a8d0ff" stroke-width="1.0" />
<line x1="353.88" y1="295.80" x2="353.88" y2="299.00" stroke="#a8d0ff" stroke-width="1.0" />
<line x1="370.75" y1="295.70" x2="384.75" y2="295.70" stroke="#a8d0ff" stroke-width="1.0" />
<line x1="370.75" y1="298.90" x2="384.75" y2="298.90" stroke="#a8d0ff" stroke-width="1.0" />
<line x1="377.75" y1="295.70" x2="377.75" y2="298.90" stroke="#a8d0ff" stroke-width="1.0" />
<line x1="418.50" y1="296.00" x2="432.50" y2="296.00" stroke="#a8d0ff" stroke-width="1.0" />
<line x1="418.50" y1="299.20" x2="432.50" y2="299.20" stroke="#a8d0ff" stroke-width="1.0" />
<line x1="425.50" y1="296.00" x2="425.50" y2="299.20" stroke="#a8d0ff" stroke-width="1.0" />
<line x1="466.25" y1="295.90" x2="480.25" y2="295.90" stroke="#a8d0ff" stroke-width="1.0" />
<line x1="466.25" y1="299.10" x2="480.25" y2="299.10" stroke="#a8d0ff" stroke-width="1.0" />
<line x1="473.25" y1="295.90" x2="473.25" y2="299.10" stroke="#a8d0ff" stroke-width="1.0" />
<line x1="514.00" y1="295.60" x2="528.00" y2="295.60" stroke="#a8d0ff" stroke-width="1.0" />
<line x1="514.00" y1="298.80" x2="528.00" y2="298.80" stroke="#a8d0ff" stroke-width="1.0" />
<line x1="521.00" y1="295.60" x2="521.00" y2="298.80" stroke="#a8d0ff" stroke-width="1.0" />
<polyline points="330.00,297.40 353.88,297.40 377.75,297.30 425.50,297.60 473.25,297.50 521.00,297.20" fill="none" stroke="#2f86ff" stroke-width="1.15" stroke-linejoin="round"/>
<polygon points="330.00,294.50 327.39,299.00 332.61,299.00" fill="#2f86ff"/>
<polygon points="353.88,294.50 351.26,299.00 356.49,299.00" fill="#2f86ff"/>
<polygon points="377.75,294.40 375.14,298.90 380.36,298.90" fill="#2f86ff"/>
<polygon points="425.50,294.70 422.89,299.20 428.11,299.20" fill="#2f86ff"/>
<polygon points="473.25,294.60 470.64,299.10 475.86,299.10" fill="#2f86ff"/>
<polygon points="521.00,294.30 518.39,298.80 523.61,298.80" fill="#2f86ff"/>
<polyline points="330.00,297.40 353.88,297.40 377.75,297.30 425.50,297.60 473.25,297.50 521.00,297.20" fill="none" stroke="#2fcc2f" stroke-width="1.15" stroke-linejoin="round"/>
<polygon points="330.00,300.30 327.39,295.80 332.61,295.80" fill="#2fcc2f"/>
<polygon points="353.88,300.30 351.26,295.80 356.49,295.80" fill="#2fcc2f"/>
<polygon points="377.75,300.20 375.14,295.70 380.36,295.70" fill="#2fcc2f"/>
<polygon points="425.50,300.50 422.89,296.00 428.11,296.00" fill="#2fcc2f"/>
<polygon points="473.25,300.40 470.64,295.90 475.86,295.90" fill="#2fcc2f"/>
<polygon points="521.00,300.10 518.39,295.60 523.61,295.60" fill="#2fcc2f"/>
<polyline points="330.00,317.90 353.88,346.40 377.75,356.30 425.50,362.80 473.25,370.10 521.00,370.90" fill="none" stroke="#ff1a1a" stroke-width="1.15" stroke-linejoin="round"/>
<circle cx="330.00" cy="317.90" r="2.60" fill="#ff1a1a"/>
<circle cx="353.88" cy="346.40" r="2.60" fill="#ff1a1a"/>
<circle cx="377.75" cy="356.30" r="2.60" fill="#ff1a1a"/>
<circle cx="425.50" cy="362.80" r="2.60" fill="#ff1a1a"/>
<circle cx="473.25" cy="370.10" r="2.60" fill="#ff1a1a"/>
<circle cx="521.00" cy="370.90" r="2.60" fill="#ff1a1a"/>
<line x1="172.00" y1="57.20" x2="190.00" y2="57.20" stroke="#000000" stroke-width="1.3" />
<rect x="178.80" y="55.00" width="4.40" height="4.40" fill="#000000"/>
<line x1="217.60" y1="57.20" x2="235.40" y2="57.20" stroke="#2f86ff" stroke-width="1.3" />
<polygon points="226.50,54.30 223.89,58.80 229.11,58.80" fill="#2f86ff"/>
<line x1="172.00" y1="75.00" x2="190.00" y2="75.00" stroke="#ff1a1a" stroke-width="1.3" />
<circle cx="181.00" cy="75.00" r="2.60" fill="#ff1a1a"/>
<line x1="217.60" y1="75.00" x2="235.40" y2="75.00" stroke="#2fcc2f" stroke-width="1.3" />
<polygon points="226.50,77.90 223.89,73.41 229.11,73.41" fill="#2fcc2f"/>
<text x="191.90" y="60.10" font-size="9.5" fill="#4a4a4a" stroke="#4a4a4a" stroke-width="0.15">&lt;</text>
<text x="197.26" y="60.10" font-size="9.5" fill="#4a4a4a" stroke="#4a4a4a" stroke-width="0.15" font-style="italic">R</text>
<text x="203.26" y="53.60" font-size="6.2" fill="#4a4a4a" stroke="#4a4a4a" stroke-width="0.15">2</text>
<text x="203.06" y="63.40" font-size="6.2" fill="#4a4a4a" stroke="#4a4a4a" stroke-width="0.15">g</text>
<text x="206.16" y="60.10" font-size="9.5" fill="#4a4a4a" stroke="#4a4a4a" stroke-width="0.15">&gt;</text>
<text x="211.32" y="64.30" font-size="6.8" fill="#4a4a4a" stroke="#4a4a4a" stroke-width="0.15">y</text>
<text x="237.10" y="60.10" font-size="9.5" fill="#4a4a4a" stroke="#4a4a4a" stroke-width="0.15">&lt;</text>
<text x="242.46" y="60.10" font-size="9.5" fill="#4a4a4a" stroke="#4a4a4a" stroke-width="0.15" font-style="italic">R</text>
<text x="248.46" y="53.60" font-size="6.2" fill="#4a4a4a" stroke="#4a4a4a" stroke-width="0.15">2</text>
<text x="248.26" y="63.40" font-size="6.2" fill="#4a4a4a" stroke="#4a4a4a" stroke-width="0.15">g</text>
<text x="251.36" y="60.10" font-size="9.5" fill="#4a4a4a" stroke="#4a4a4a" stroke-width="0.15">&gt;</text>
<text x="256.52" y="64.30" font-size="6.8" fill="#4a4a4a" stroke="#4a4a4a" stroke-width="0.15">y</text>
<text x="191.90" y="77.90" font-size="9.5" fill="#4a4a4a" stroke="#4a4a4a" stroke-width="0.15">&lt;</text>
<text x="197.26" y="77.90" font-size="9.5" fill="#4a4a4a" stroke="#4a4a4a" stroke-width="0.15" font-style="italic">R</text>
<text x="203.26" y="71.40" font-size="6.2" fill="#4a4a4a" stroke="#4a4a4a" stroke-width="0.15">2</text>
<text x="203.06" y="81.20" font-size="6.2" fill="#4a4a4a" stroke="#4a4a4a" stroke-width="0.15">g</text>
<text x="206.16" y="77.90" font-size="9.5" fill="#4a4a4a" stroke="#4a4a4a" stroke-width="0.15">&gt;</text>
<text x="211.32" y="82.10" font-size="6.8" fill="#4a4a4a" stroke="#4a4a4a" stroke-width="0.15">z</text>
<text x="237.10" y="77.90" font-size="9.5" fill="#4a4a4a" stroke="#4a4a4a" stroke-width="0.15">&lt;</text>
<text x="242.46" y="77.90" font-size="9.5" fill="#4a4a4a" stroke="#4a4a4a" stroke-width="0.15" font-style="italic">R</text>
<text x="248.46" y="71.40" font-size="6.2" fill="#4a4a4a" stroke="#4a4a4a" stroke-width="0.15">2</text>
<text x="248.26" y="81.20" font-size="6.2" fill="#4a4a4a" stroke="#4a4a4a" stroke-width="0.15">g</text>
<text x="251.36" y="77.90" font-size="9.5" fill="#4a4a4a" stroke="#4a4a4a" stroke-width="0.15">&gt;</text>
<text x="256.52" y="82.10" font-size="6.8" fill="#4a4a4a" stroke="#4a4a4a" stroke-width="0.15">z</text>
<line x1="388.00" y1="56.20" x2="405.00" y2="56.20" stroke="#000000" stroke-width="1.3" />
<rect x="394.30" y="54.00" width="4.40" height="4.40" fill="#000000"/>
<line x1="431.60" y1="56.20" x2="449.00" y2="56.20" stroke="#2f86ff" stroke-width="1.3" />
<polygon points="440.30,53.30 437.69,57.80 442.91,57.80" fill="#2f86ff"/>
<line x1="388.00" y1="74.00" x2="405.00" y2="74.00" stroke="#ff1a1a" stroke-width="1.3" />
<circle cx="396.50" cy="74.00" r="2.60" fill="#ff1a1a"/>
<line x1="431.60" y1="74.00" x2="449.00" y2="74.00" stroke="#2fcc2f" stroke-width="1.3" />
<polygon points="440.30,76.90 437.69,72.41 442.91,72.41" fill="#2fcc2f"/>
<text x="406.90" y="59.10" font-size="9.5" fill="#4a4a4a" stroke="#4a4a4a" stroke-width="0.15">&lt;</text>
<text x="412.26" y="59.10" font-size="9.5" fill="#4a4a4a" stroke="#4a4a4a" stroke-width="0.15" font-style="italic">R</text>
<text x="418.26" y="52.60" font-size="6.2" fill="#4a4a4a" stroke="#4a4a4a" stroke-width="0.15">2</text>
<text x="418.06" y="62.40" font-size="6.2" fill="#4a4a4a" stroke="#4a4a4a" stroke-width="0.15">g</text>
<text x="421.16" y="59.10" font-size="9.5" fill="#4a4a4a" stroke="#4a4a4a" stroke-width="0.15">&gt;</text>
<text x="450.70" y="59.10" font-size="9.5" fill="#4a4a4a" stroke="#4a4a4a" stroke-width="0.15">&lt;</text>
<text x="456.06" y="59.10" font-size="9.5" fill="#4a4a4a" stroke="#4a4a4a" stroke-width="0.15" font-style="italic">R</text>
<text x="462.06" y="52.60" font-size="6.2" fill="#4a4a4a" stroke="#4a4a4a" stroke-width="0.15">2</text>
<text x="461.86" y="62.40" font-size="6.2" fill="#4a4a4a" stroke="#4a4a4a" stroke-width="0.15">g</text>
<text x="464.96" y="59.10" font-size="9.5" fill="#4a4a4a" stroke="#4a4a4a" stroke-width="0.15">&gt;</text>
<text x="470.12" y="63.30" font-size="6.8" fill="#4a4a4a" stroke="#4a4a4a" stroke-width="0.15">y</text>
<text x="406.90" y="76.90" font-size="9.5" fill="#4a4a4a" stroke="#4a4a4a" stroke-width="0.15">&lt;</text>
<text x="412.26" y="76.90" font-size="9.5" fill="#4a4a4a" stroke="#4a4a4a" stroke-width="0.15" font-style="italic">R</text>
<text x="418.26" y="70.40" font-size="6.2" fill="#4a4a4a" stroke="#4a4a4a" stroke-width="0.15">2</text>
<text x="418.06" y="80.20" font-size="6.2" fill="#4a4a4a" stroke="#4a4a4a" stroke-width="0.15">g</text>
<text x="421.16" y="76.90" font-size="9.5" fill="#4a4a4a" stroke="#4a4a4a" stroke-width="0.15">&gt;</text>
<text x="426.32" y="81.10" font-size="6.8" fill="#4a4a4a" stroke="#4a4a4a" stroke-width="0.15">x</text>
<text x="450.70" y="76.90" font-size="9.5" fill="#4a4a4a" stroke="#4a4a4a" stroke-width="0.15">&lt;</text>
<text x="456.06" y="76.90" font-size="9.5" fill="#4a4a4a" stroke="#4a4a4a" stroke-width="0.15" font-style="italic">R</text>
<text x="462.06" y="70.40" font-size="6.2" fill="#4a4a4a" stroke="#4a4a4a" stroke-width="0.15">2</text>
<text x="461.86" y="80.20" font-size="6.2" fill="#4a4a4a" stroke="#4a4a4a" stroke-width="0.15">g</text>
<text x="464.96" y="76.90" font-size="9.5" fill="#4a4a4a" stroke="#4a4a4a" stroke-width="0.15">&gt;</text>
<text x="470.12" y="81.10" font-size="6.8" fill="#4a4a4a" stroke="#4a4a4a" stroke-width="0.15">z</text>
<line x1="167.30" y1="320.90" x2="184.70" y2="320.90" stroke="#000000" stroke-width="1.3" />
<rect x="173.80" y="318.70" width="4.40" height="4.40" fill="#000000"/>
<line x1="212.00" y1="320.90" x2="230.00" y2="320.90" stroke="#2f86ff" stroke-width="1.3" />
<polygon points="221.00,318.00 218.39,322.50 223.61,322.50" fill="#2f86ff"/>
<line x1="167.30" y1="339.10" x2="184.70" y2="339.10" stroke="#ff1a1a" stroke-width="1.3" />
<circle cx="176.00" cy="339.10" r="2.60" fill="#ff1a1a"/>
<line x1="212.00" y1="339.10" x2="230.00" y2="339.10" stroke="#2fcc2f" stroke-width="1.3" />
<polygon points="221.00,342.00 218.39,337.50 223.61,337.50" fill="#2fcc2f"/>
<text x="186.60" y="323.80" font-size="9.5" fill="#4a4a4a" stroke="#4a4a4a" stroke-width="0.15">&lt;</text>
<text x="191.96" y="323.80" font-size="9.5" fill="#4a4a4a" stroke="#4a4a4a" stroke-width="0.15" font-style="italic">R</text>
<text x="197.96" y="318.80" font-size="5.8" fill="#4a4a4a" stroke="#4a4a4a" stroke-width="0.15">2</text>
<text x="197.76" y="327.90" font-size="6.2" fill="#4a4a4a" stroke="#4a4a4a" stroke-width="0.15">ee</text>
<text x="203.27" y="323.80" font-size="9.5" fill="#4a4a4a" stroke="#4a4a4a" stroke-width="0.15">&gt;</text>
<text x="231.70" y="323.80" font-size="9.5" fill="#4a4a4a" stroke="#4a4a4a" stroke-width="0.15">&lt;</text>
<text x="237.06" y="323.80" font-size="9.5" fill="#4a4a4a" stroke="#4a4a4a" stroke-width="0.15" font-style="italic">R</text>
<text x="243.06" y="318.80" font-size="5.8" fill="#4a4a4a" stroke="#4a4a4a" stroke-width="0.15">2</text>
<text x="242.86" y="327.90" font-size="6.2" fill="#4a4a4a" stroke="#4a4a4a" stroke-width="0.15">ee</text>
<text x="248.37" y="323.80" font-size="9.5" fill="#4a4a4a" stroke="#4a4a4a" stroke-width="0.15">&gt;</text>
<text x="253.53" y="328.00" font-size="6.8" fill="#4a4a4a" stroke="#4a4a4a" stroke-width="0.15">y</text>
<text x="186.60" y="342.00" font-size="9.5" fill="#4a4a4a" stroke="#4a4a4a" stroke-width="0.15">&lt;</text>
<text x="191.96" y="342.00" font-size="9.5" fill="#4a4a4a" stroke="#4a4a4a" stroke-width="0.15" font-style="italic">R</text>
<text x="197.96" y="337.00" font-size="5.8" fill="#4a4a4a" stroke="#4a4a4a" stroke-width="0.15">2</text>
<text x="197.76" y="346.10" font-size="6.2" fill="#4a4a4a" stroke="#4a4a4a" stroke-width="0.15">ee</text>
<text x="203.27" y="342.00" font-size="9.5" fill="#4a4a4a" stroke="#4a4a4a" stroke-width="0.15">&gt;</text>
<text x="208.43" y="346.20" font-size="6.8" fill="#4a4a4a" stroke="#4a4a4a" stroke-width="0.15">x</text>
<text x="231.70" y="342.00" font-size="9.5" fill="#4a4a4a" stroke="#4a4a4a" stroke-width="0.15">&lt;</text>
<text x="237.06" y="342.00" font-size="9.5" fill="#4a4a4a" stroke="#4a4a4a" stroke-width="0.15" font-style="italic">R</text>
<text x="243.06" y="337.00" font-size="5.8" fill="#4a4a4a" stroke="#4a4a4a" stroke-width="0.15">2</text>
<text x="242.86" y="346.10" font-size="6.2" fill="#4a4a4a" stroke="#4a4a4a" stroke-width="0.15">ee</text>
<text x="248.37" y="342.00" font-size="9.5" fill="#4a4a4a" stroke="#4a4a4a" stroke-width="0.15">&gt;</text>
<text x="253.53" y="346.20" font-size="6.8" fill="#4a4a4a" stroke="#4a4a4a" stroke-width="0.15">z</text>
<line x1="423.00" y1="313.00" x2="441.00" y2="313.00" stroke="#000000" stroke-width="1.3" />
<rect x="429.80" y="310.80" width="4.40" height="4.40" fill="#000000"/>
<line x1="467.00" y1="313.00" x2="484.40" y2="313.00" stroke="#2f86ff" stroke-width="1.3" />
<polygon points="475.70,310.10 473.09,314.60 478.31,314.60" fill="#2f86ff"/>
<line x1="423.00" y1="331.00" x2="441.00" y2="331.00" stroke="#ff1a1a" stroke-width="1.3" />
<circle cx="432.00" cy="331.00" r="2.60" fill="#ff1a1a"/>
<line x1="467.00" y1="331.00" x2="484.40" y2="331.00" stroke="#2fcc2f" stroke-width="1.3" />
<polygon points="475.70,333.90 473.09,329.40 478.31,329.40" fill="#2fcc2f"/>
<text x="442.90" y="315.90" font-size="9.5" fill="#4a4a4a" stroke="#4a4a4a" stroke-width="0.15">&lt;</text>
<text x="448.26" y="315.90" font-size="9.5" fill="#4a4a4a" stroke="#4a4a4a" stroke-width="0.15" font-style="italic">R</text>
<text x="454.26" y="310.90" font-size="5.8" fill="#4a4a4a" stroke="#4a4a4a" stroke-width="0.15">2</text>
<text x="454.06" y="320.00" font-size="6.2" fill="#4a4a4a" stroke="#4a4a4a" stroke-width="0.15">ee</text>
<text x="459.57" y="315.90" font-size="9.5" fill="#4a4a4a" stroke="#4a4a4a" stroke-width="0.15">&gt;</text>
<text x="486.10" y="315.90" font-size="9.5" fill="#4a4a4a" stroke="#4a4a4a" stroke-width="0.15">&lt;</text>
<text x="491.46" y="315.90" font-size="9.5" fill="#4a4a4a" stroke="#4a4a4a" stroke-width="0.15" font-style="italic">R</text>
<text x="497.46" y="310.90" font-size="5.8" fill="#4a4a4a" stroke="#4a4a4a" stroke-width="0.15">2</text>
<text x="497.26" y="320.00" font-size="6.2" fill="#4a4a4a" stroke="#4a4a4a" stroke-width="0.15">ee</text>
<text x="502.77" y="315.90" font-size="9.5" fill="#4a4a4a" stroke="#4a4a4a" stroke-width="0.15">&gt;</text>
<text x="507.93" y="320.10" font-size="6.8" fill="#4a4a4a" stroke="#4a4a4a" stroke-width="0.15">y</text>
<text x="442.90" y="333.90" font-size="9.5" fill="#4a4a4a" stroke="#4a4a4a" stroke-width="0.15">&lt;</text>
<text x="448.26" y="333.90" font-size="9.5" fill="#4a4a4a" stroke="#4a4a4a" stroke-width="0.15" font-style="italic">R</text>
<text x="454.26" y="328.90" font-size="5.8" fill="#4a4a4a" stroke="#4a4a4a" stroke-width="0.15">2</text>
<text x="454.06" y="338.00" font-size="6.2" fill="#4a4a4a" stroke="#4a4a4a" stroke-width="0.15">ee</text>
<text x="459.57" y="333.90" font-size="9.5" fill="#4a4a4a" stroke="#4a4a4a" stroke-width="0.15">&gt;</text>
<text x="464.73" y="338.10" font-size="6.8" fill="#4a4a4a" stroke="#4a4a4a" stroke-width="0.15">x</text>
<text x="486.10" y="333.90" font-size="9.5" fill="#4a4a4a" stroke="#4a4a4a" stroke-width="0.15">&lt;</text>
<text x="491.46" y="333.90" font-size="9.5" fill="#4a4a4a" stroke="#4a4a4a" stroke-width="0.15" font-style="italic">R</text>
<text x="497.46" y="328.90" font-size="5.8" fill="#4a4a4a" stroke="#4a4a4a" stroke-width="0.15">2</text>
<text x="497.26" y="338.00" font-size="6.2" fill="#4a4a4a" stroke="#4a4a4a" stroke-width="0.15">ee</text>
<text x="502.77" y="333.90" font-size="9.5" fill="#4a4a4a" stroke="#4a4a4a" stroke-width="0.15">&gt;</text>
<text x="507.93" y="338.10" font-size="6.8" fill="#4a4a4a" stroke="#4a4a4a" stroke-width="0.15">z</text>
<text x="170.20" y="96.60" font-size="10" fill="#333" stroke="#333" stroke-width="0.3" >A</text>
<text x="177.80" y="100.50" font-size="6.2" fill="#333" stroke="#333" stroke-width="0.3" >2</text>
<text x="180.40" y="96.60" font-size="10" fill="#333" stroke="#333" stroke-width="0.3" >B</text>
<text x="187.20" y="100.50" font-size="6.2" fill="#333" stroke="#333" stroke-width="0.3" >4</text>
<text x="189.20" y="96.60" font-size="10" fill="#333" stroke="#333" stroke-width="0.3" >A</text>
<text x="197.20" y="100.50" font-size="6.2" fill="#333" stroke="#333" stroke-width="0.3" >2</text>
<text x="206.60" y="96.60" font-size="10" fill="#333" stroke="#333" stroke-width="0.3" font-style="italic">c</text>
<text x="210.80" y="100.50" font-size="6.2" fill="#333" stroke="#333" stroke-width="0.3" >cp</text>
<text x="216.10" y="96.60" font-size="10" fill="#333" stroke="#333" stroke-width="0.3" >=</text>
<text x="223.30" y="96.60" font-size="10" fill="#333" stroke="#333" stroke-width="0.3" >0.05</text>
<text x="177.60" y="359.70" font-size="10" fill="#333" stroke="#333" stroke-width="0.3" >A</text>
<text x="185.20" y="363.60" font-size="6.2" fill="#333" stroke="#333" stroke-width="0.3" >2</text>
<text x="187.80" y="359.70" font-size="10" fill="#333" stroke="#333" stroke-width="0.3" >B</text>
<text x="194.60" y="363.60" font-size="6.2" fill="#333" stroke="#333" stroke-width="0.3" >4</text>
<text x="196.60" y="359.70" font-size="10" fill="#333" stroke="#333" stroke-width="0.3" >A</text>
<text x="204.60" y="363.60" font-size="6.2" fill="#333" stroke="#333" stroke-width="0.3" >2</text>
<text x="214.00" y="359.70" font-size="10" fill="#333" stroke="#333" stroke-width="0.3" font-style="italic">c</text>
<text x="218.20" y="363.60" font-size="6.2" fill="#333" stroke="#333" stroke-width="0.3" >cp</text>
<text x="223.50" y="359.70" font-size="10" fill="#333" stroke="#333" stroke-width="0.3" >=</text>
<text x="230.70" y="359.70" font-size="10" fill="#333" stroke="#333" stroke-width="0.3" >0.05</text>
<text x="393.30" y="95.70" font-size="10" fill="#333" stroke="#333" stroke-width="0.3" >A</text>
<text x="400.60" y="99.60" font-size="6.2" fill="#333" stroke="#333" stroke-width="0.3" >7</text>
<text x="403.20" y="95.70" font-size="10" fill="#333" stroke="#333" stroke-width="0.3" >B</text>
<text x="409.80" y="99.60" font-size="6.2" fill="#333" stroke="#333" stroke-width="0.3" >14</text>
<text x="415.80" y="95.70" font-size="10" fill="#333" stroke="#333" stroke-width="0.3" >A</text>
<text x="422.70" y="99.60" font-size="6.2" fill="#333" stroke="#333" stroke-width="0.3" >7</text>
<text x="432.30" y="95.70" font-size="10" fill="#333" stroke="#333" stroke-width="0.3" font-style="italic">c</text>
<text x="436.90" y="99.60" font-size="6.2" fill="#333" stroke="#333" stroke-width="0.3" >cp</text>
<text x="442.20" y="95.70" font-size="10" fill="#333" stroke="#333" stroke-width="0.3" >=</text>
<text x="449.60" y="95.70" font-size="10" fill="#333" stroke="#333" stroke-width="0.3" >0.2</text>
<text x="431.50" y="352.00" font-size="10" fill="#333" stroke="#333" stroke-width="0.3" >A</text>
<text x="438.80" y="355.90" font-size="6.2" fill="#333" stroke="#333" stroke-width="0.3" >7</text>
<text x="441.40" y="352.00" font-size="10" fill="#333" stroke="#333" stroke-width="0.3" >B</text>
<text x="448.00" y="355.90" font-size="6.2" fill="#333" stroke="#333" stroke-width="0.3" >14</text>
<text x="454.00" y="352.00" font-size="10" fill="#333" stroke="#333" stroke-width="0.3" >A</text>
<text x="460.90" y="355.90" font-size="6.2" fill="#333" stroke="#333" stroke-width="0.3" >7</text>
<text x="470.50" y="352.00" font-size="10" fill="#333" stroke="#333" stroke-width="0.3" font-style="italic">c</text>
<text x="475.10" y="355.90" font-size="6.2" fill="#333" stroke="#333" stroke-width="0.3" >cp</text>
<text x="480.40" y="352.00" font-size="10" fill="#333" stroke="#333" stroke-width="0.3" >=</text>
<text x="487.80" y="352.00" font-size="10" fill="#333" stroke="#333" stroke-width="0.3" >0.2</text>
<g transform="translate(27.20,121.20) rotate(-90)" fill="#262626" stroke="#262626" stroke-width="0.3">
<text x="0" y="0" font-size="17.8">&lt;</text>
<text x="10.04" y="0" font-size="17.8" font-style="italic">R</text>
<text x="21.21" y="-8.90" font-size="11">2</text>
<text x="20.91" y="7.12" font-size="11">g</text>
<text x="26.41" y="0" font-size="17.8">&gt;</text>
</g>
<g transform="translate(290.80,128.20) rotate(-90)" fill="#262626" stroke="#262626" stroke-width="0.3">
<text x="0" y="0" font-size="17.8">&lt;</text>
<text x="10.04" y="0" font-size="17.8" font-style="italic">R</text>
<text x="21.21" y="-8.90" font-size="11">2</text>
<text x="20.91" y="7.12" font-size="11">g</text>
<text x="26.41" y="0" font-size="17.8">&gt;</text>
</g>
<g transform="translate(26.50,328.60) rotate(-90)" fill="#262626" stroke="#262626" stroke-width="0.3">
<text x="0" y="0" font-size="17.8">&lt;</text>
<text x="10.04" y="0" font-size="17.8" font-style="italic">R</text>
<text x="21.21" y="-8.90" font-size="11">2</text>
<text x="20.91" y="7.12" font-size="11">ee</text>
<text x="30.68" y="0" font-size="17.8">&gt;</text>
</g>
<g transform="translate(292.30,332.50) rotate(-90)" fill="#262626" stroke="#262626" stroke-width="0.3">
<text x="0" y="0" font-size="17.8">&lt;</text>
<text x="10.04" y="0" font-size="17.8" font-style="italic">R</text>
<text x="21.21" y="-8.90" font-size="11">2</text>
<text x="20.91" y="7.12" font-size="11">ee</text>
<text x="30.68" y="0" font-size="17.8">&gt;</text>
</g>
</svg></body></html>
